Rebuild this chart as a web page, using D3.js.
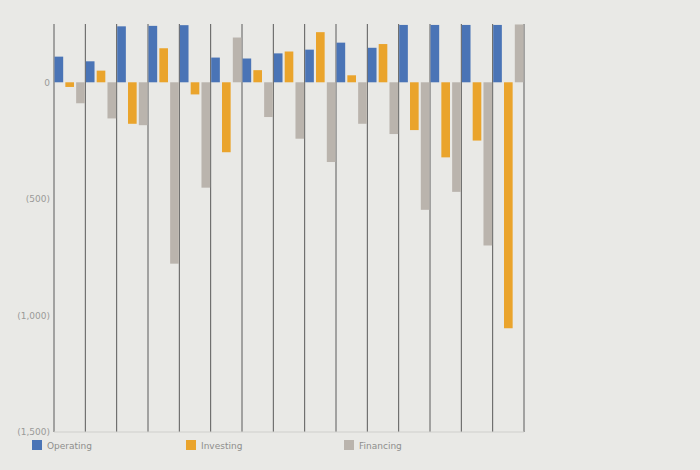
<!DOCTYPE html>
<html>
<head>
<meta charset="utf-8">
<script src="https://cdn.jsdelivr.net/npm/d3@7/dist/d3.min.js"></script>
<style>
  html, body { margin: 0; padding: 0; background: #e9e9e6; }
  svg { display: block; font-family: "DejaVu Sans", sans-serif; }
</style>
</head>
<body>
<svg id="chart" width="700" height="470"></svg>
<script>
// ---- data ----
const categories = ["1","2","3","4","5","6","7","8","9","10","11","12","13","14","15"];
const seriesNames = ["Operating", "Investing", "Financing"];
const operating = [110, 90, 240, 242, 245, 106, 102, 124, 140, 170, 148, 246, 246, 246, 246];
const investing = [-20, 50, -178, 146, -52, -300, 52, 132, 215, 30, 164, -205, -322, -250, -1055];
const financing = [-90, -155, -184, -778, -452, 192, -149, -242, -342, -178, -222, -547, -470, -700, 248];
const yTicks = [0, -500, -1000, -1500];
const yTickLabels = ["0", "(500)", "(1,000)", "(1,500)"];
const colors = ["#4a74b6", "#eaa42c", "#bab4ad"];

// ---- layout ----
const svg = d3.select("#chart");
const margin = { left: 54, right: 176, top: 24, bottom: 38 };
const W = 700, H = 470;

const x = d3.scaleBand().domain(categories).range([margin.left, W - margin.right]).paddingInner(0).paddingOuter(0);
const xSub = d3.scaleBand().domain(seriesNames).range([0, x.bandwidth()]).paddingInner(0.2).paddingOuter(0.05);
const y = d3.scaleLinear().domain([-1500, 250]).range([H - margin.bottom, margin.top]);

const seriesValues = [operating, investing, financing];
const rows = categories.map((c, i) => ({ cat: c, vals: seriesValues.map((s, k) => ({ name: seriesNames[k], v: s[i], k })) }));

// vertical gridlines at category boundaries
const gridX = categories.map(c => x(c)).concat([x(categories[categories.length - 1]) + x.bandwidth()]);
svg.append("g").selectAll("line").data(gridX).join("line")
  .attr("x1", d => d).attr("x2", d => d)
  .attr("y1", y(250)).attr("y2", y(-1500))
  .attr("stroke", "#5a5a5a").attr("stroke-width", 1);

// bottom baseline
svg.append("line")
  .attr("x1", x.range()[0]).attr("x2", x.range()[1])
  .attr("y1", y(-1500)).attr("y2", y(-1500))
  .attr("stroke", "#cfcfcc").attr("stroke-width", 1);

// bars
svg.append("g").selectAll("g").data(rows).join("g")
  .attr("transform", d => `translate(${x(d.cat)},0)`)
  .selectAll("rect").data(d => d.vals).join("rect")
  .attr("x", d => xSub(d.name))
  .attr("width", xSub.bandwidth())
  .attr("y", d => y(Math.max(0, d.v)))
  .attr("height", d => Math.abs(y(d.v) - y(0)))
  .attr("fill", d => colors[d.k]);

// y axis (labels only)
const yAxis = d3.axisLeft(y).tickValues(yTicks).tickSize(0).tickPadding(4)
  .tickFormat((d, i) => yTickLabels[i]);
const ga = svg.append("g").attr("transform", `translate(${margin.left},0)`).call(yAxis);
ga.select(".domain").remove();
ga.selectAll("text").attr("fill", "#9a9a98").style("font-size", "9px").style("font-family", "DejaVu Sans, sans-serif");

// legend
const legendX = [32, 186, 344];
const lg = svg.append("g").selectAll("g").data(seriesNames).join("g")
  .attr("transform", (d, i) => `translate(${legendX[i]},440)`);
lg.append("rect").attr("width", 10).attr("height", 10).attr("fill", (d, i) => colors[i]);
lg.append("text").attr("x", 15).attr("y", 8.5).text(d => d)
  .attr("fill", "#8e8e8c").style("font-size", "9px");
</script>
</body>
</html>
